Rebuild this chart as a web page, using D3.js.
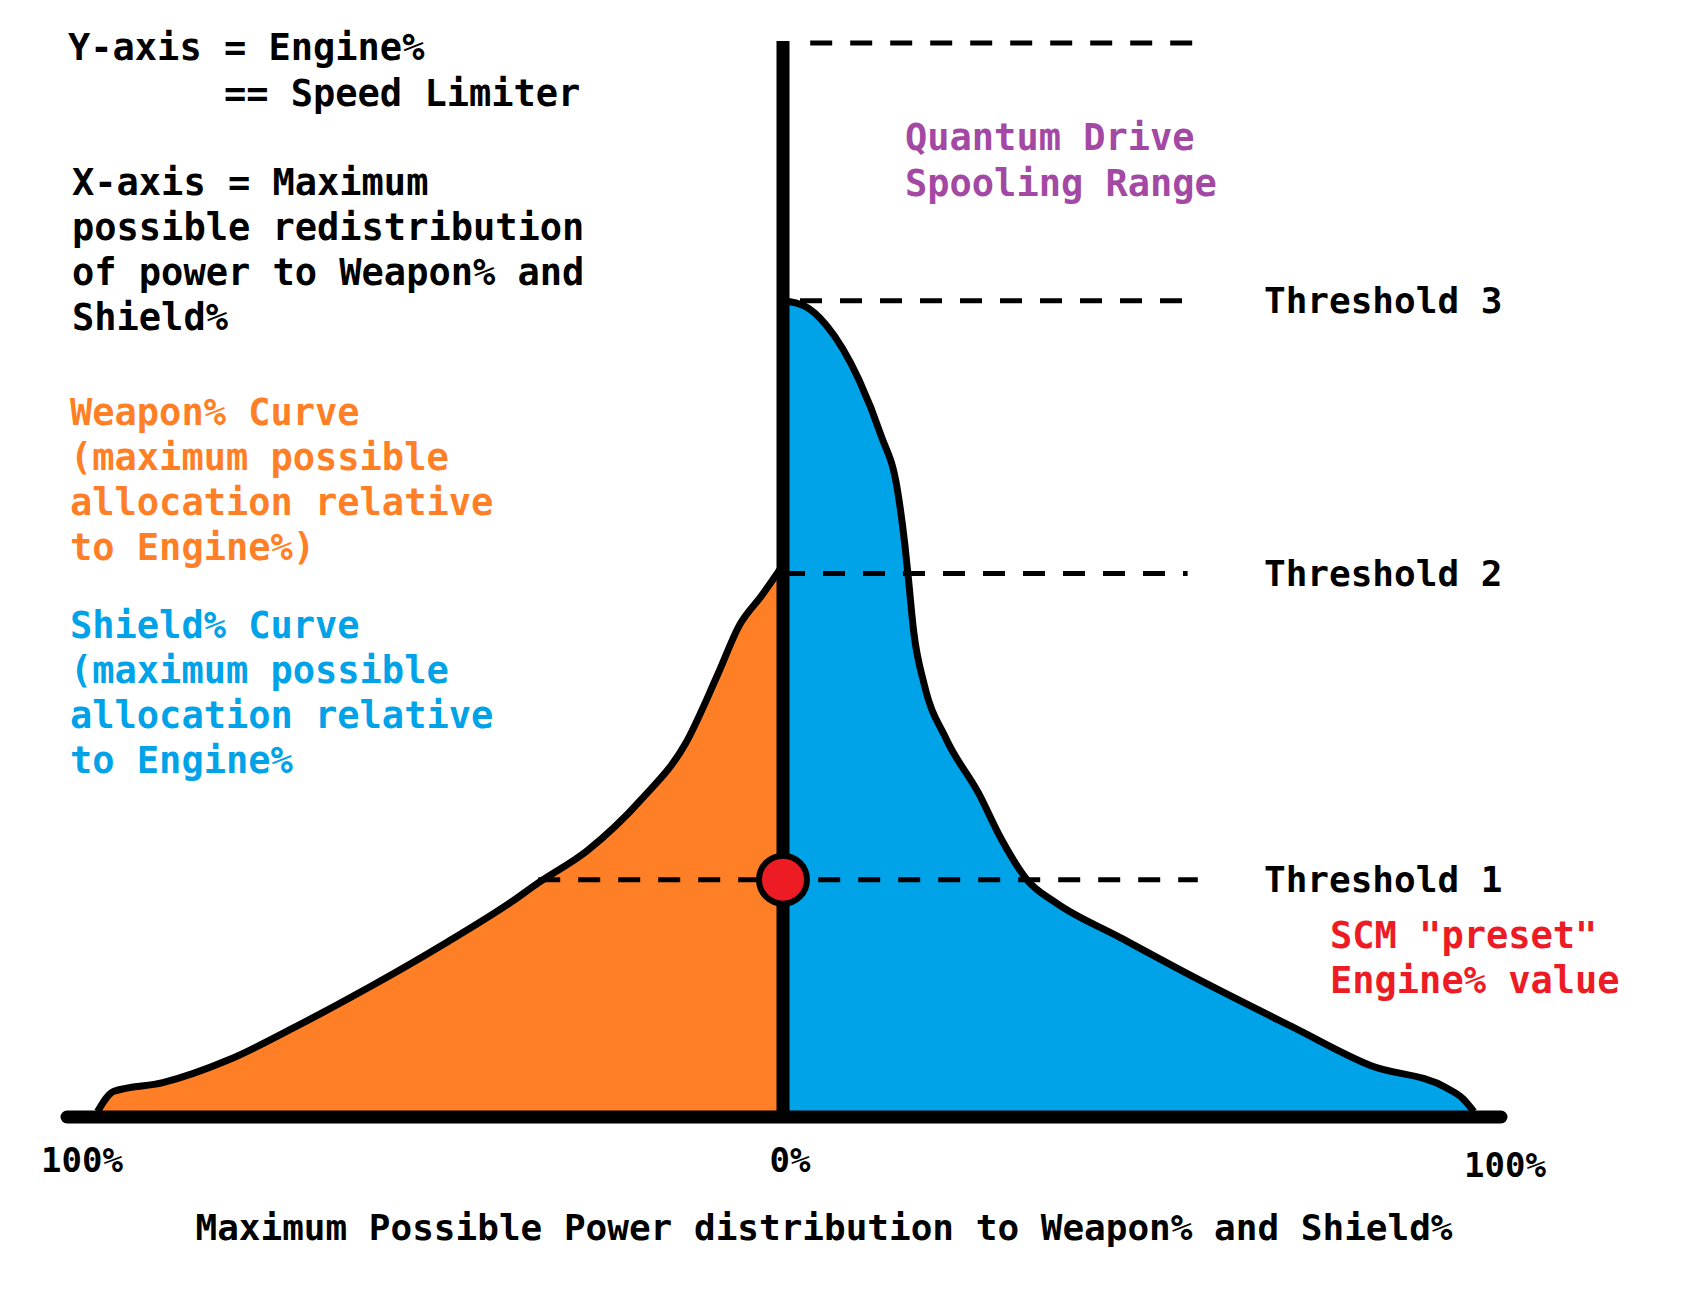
<!DOCTYPE html>
<html><head><meta charset="utf-8">
<script src="https://cdn.jsdelivr.net/npm/d3@7"></script>
<style>body{margin:0;background:#fff}svg{display:block}text{font-family:"DejaVu Sans Mono",monospace;font-weight:bold}</style>
</head><body><svg id="c" width="1704" height="1308"></svg>
<script>
const weaponX = [-100.8,-98.4,-91.2,-81.6,-72,-60.8,-49.6,-40,-36,-28.8,-20.8,-14.4,-9.6,-6.4,-3.2,0];
const weaponY = [0.5,2.4,3.2,5.3,8.3,12.1,16.2,20.0,21.8,24.8,29.6,34.7,41.2,45.8,48.5,51.4];
const shieldX = [0,3.2,6.4,11.2,14.4,16.8,17.9,18.4,19.2,20.8,24,28.8,32,36,40,49.6,60.8,75.2,86.4,97.6,100,101.6];
const shieldY = [76.0,75.5,73.7,68.6,63.5,58.5,53.4,50.4,45.3,40.2,35.2,30.1,26.0,22.0,20.0,16.7,12.9,8.3,4.8,2.7,1.7,0.5];
const thresholdNames = ["Quantum Drive top","Threshold 3","Threshold 2","Threshold 1"];
const thresholdValues = [100,76.0,50.6,22.1];
const thresholdStart = [4,2.5,0,-36];
const scmValue = 22.1;
const tickLabels = ["100%","0%","100%"];
const tickValues = [-100,0,100];

const svg = d3.select("#c");
const x = d3.scaleLinear().domain([-100,100]).range([103,1463]);
const y = d3.scaleLinear().domain([0,100]).range([1117,43]);

const area = d3.area().x(d=>x(d[0])).y0(y(0)).y1(d=>y(d[1])).curve(d3.curveMonotoneX);
const line = d3.line().x(d=>x(d[0])).y(d=>y(d[1])).curve(d3.curveMonotoneX);
const wd = weaponX.map((v,i)=>[v,weaponY[i]]);
const sd = shieldX.map((v,i)=>[v,shieldY[i]]);
svg.append("path").attr("d",area(wd)).attr("fill","#FF7F27");
svg.append("path").attr("d",area(sd)).attr("fill","#00A2E8");
svg.append("path").attr("d",line(wd)).attr("fill","none").attr("stroke","#000").attr("stroke-width",7);
svg.append("path").attr("d",line(sd)).attr("fill","none").attr("stroke","#000").attr("stroke-width",7);

// thresholds
thresholdValues.forEach((v,i)=>{
  svg.append("line").attr("x1",x(thresholdStart[i])).attr("x2",x(i===1||i===2?59.5:61))
    .attr("y1",y(v)).attr("y2",y(v)).attr("stroke","#000").attr("stroke-width",5)
    .attr("stroke-dasharray","22,18");
  if(i>0) svg.append("text").attr("x",1264).attr("y",y(v)+12).attr("font-size",36).text(thresholdNames[i]);
});

// axes
svg.append("line").attr("x1",x(0)).attr("x2",x(0)).attr("y1",y(0)).attr("y2",41).attr("stroke","#000").attr("stroke-width",13);
svg.append("line").attr("x1",67).attr("x2",1501).attr("y1",y(0)).attr("y2",y(0)).attr("stroke","#000").attr("stroke-width",13).attr("stroke-linecap","round");

// ticks
const tx=[82,790,1505], ty=[1172,1172,1177];
tickValues.forEach((v,i)=>svg.append("text").attr("x",tx[i]).attr("y",ty[i]).attr("text-anchor","middle").attr("font-size",34).text(tickLabels[i]));
svg.append("text").attr("x",824).attr("y",1240).attr("text-anchor","middle").attr("font-size",36).text("Maximum Possible Power distribution to Weapon% and Shield%");

// red dot
svg.append("circle").attr("cx",x(0)).attr("cy",y(scmValue)).attr("r",24).attr("fill","#ED1C24").attr("stroke","#000").attr("stroke-width",6);

function block(lines,x0,y0,dy,color){
  lines.forEach((t,i)=>svg.append("text").attr("x",x0).attr("y",y0+i*dy).attr("font-size",37).attr("fill",color).attr("xml:space","preserve").style("white-space","pre").text(t));
}
block(["Y-axis = Engine%","       == Speed Limiter"],68,60,46,"#000");
block(["X-axis = Maximum","possible redistribution","of power to Weapon% and","Shield%"],72,195,45,"#000");
block(["Weapon% Curve","(maximum possible","allocation relative","to Engine%)"],70,425,45,"#FF7F27");
block(["Shield% Curve","(maximum possible","allocation relative","to Engine%"],70,638,45,"#00A2E8");
block(["Quantum Drive","Spooling Range"],905,150,46,"#A349A4");
block(["SCM \"preset\"","Engine% value"],1330,948,45,"#ED1C24");
</script></body></html>
